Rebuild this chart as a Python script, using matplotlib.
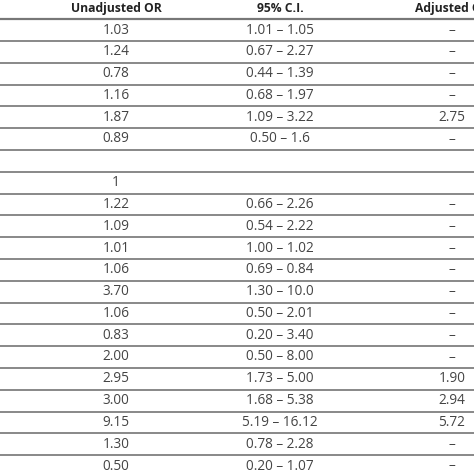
import matplotlib
matplotlib.use("Agg")
import matplotlib.pyplot as plt

headers = ["Unadjusted OR", "95% C.I.", "Adjusted OR"]
unadjusted = ["1.03", "1.24", "0.78", "1.16", "1.87", "0.89", "", "1", "1.22", "1.09", "1.01",
              "1.06", "3.70", "1.06", "0.83", "2.00", "2.95", "3.00", "9.15", "1.30", "0.50"]
ci = ["1.01 – 1.05", "0.67 – 2.27", "0.44 – 1.39", "0.68 – 1.97", "1.09 – 3.22", "0.50 – 1.6", "", "",
      "0.66 – 2.26", "0.54 – 2.22", "1.00 – 1.02", "0.69 – 0.84", "1.30 – 10.0", "0.50 – 2.01",
      "0.20 – 3.40", "0.50 – 8.00", "1.73 – 5.00", "1.68 – 5.38", "5.19 – 16.12", "0.78 – 2.28", "0.20 – 1.07"]
adjusted = ["–", "–", "–", "–", "2.75", "–", "", "", "–", "–", "–", "–", "–", "–", "–", "–",
            "1.90", "2.94", "5.72", "–", "–"]

fig = plt.figure(figsize=(4.74, 4.74), dpi=100)
ax = fig.add_axes([0, 0, 1, 1])
ax.set_xlim(0, 474)
ax.set_ylim(474, 0)
ax.axis("off")

xs = [116, 280, 452]
tc = "#444444"
font = "Open Sans"
for x, h in zip(xs, headers):
    ax.text(x, 8, h, ha="center", va="center", fontsize=8.7, fontweight="bold", color="#222222", family=font)
ax.axhline(19, color="#777777", lw=1.6)

y0, step = 30, 21.8
for i, (u, c, a) in enumerate(zip(unadjusted, ci, adjusted)):
    y = y0 + i * step
    for x, t in zip(xs, [u, c, a]):
        if t:
            ax.text(x, y, t, ha="center", va="center", fontsize=9.8, color=tc, family=font)
    if i < len(unadjusted) - 1:
        ax.axhline(y + step / 2, color="#888888", lw=1.4)

fig.savefig("out.png", dpi=100)
